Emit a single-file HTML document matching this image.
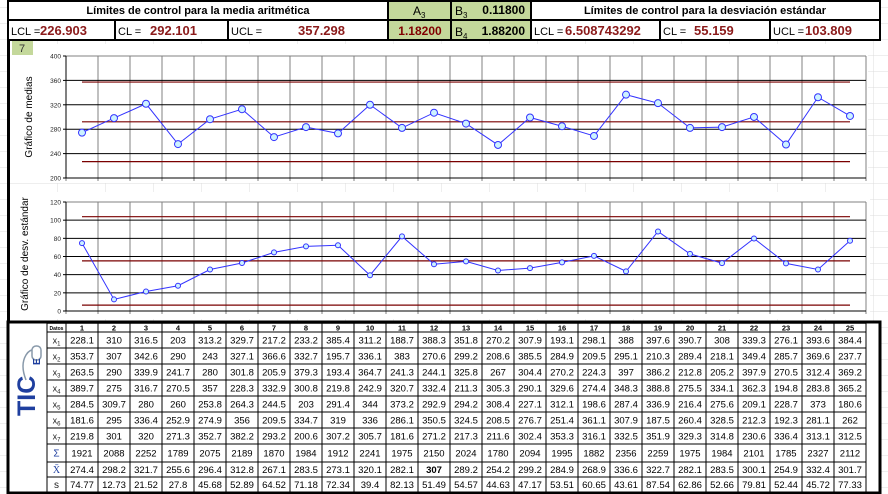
<!DOCTYPE html>
<html><head><meta charset="utf-8">
<style>
html,body{margin:0;padding:0;background:#fff;}
svg{display:block;font-family:"Liberation Sans",sans-serif;}
</style></head>
<body>
<svg id="s" width="888" height="494" viewBox="0 0 888 494" xmlns="http://www.w3.org/2000/svg">
<defs>
<pattern id="grid" width="48" height="16" patternUnits="userSpaceOnUse" x="10" y="40">
<path d="M48 0V16M0 16H48" stroke="#dcdcdc" stroke-width="1" fill="none"/>
</pattern>
</defs>
<rect x="0" y="0" width="888" height="494" fill="url(#grid)"/>
<g font-size="11">
<rect x="8" y="0" width="872" height="40" fill="#fff"/>
<rect x="388" y="0" width="143" height="40" fill="#c4d89b"/>
<g stroke="#000" stroke-width="2" fill="none">
<rect x="8" y="1" width="872" height="39"/>
<line x1="8" y1="20" x2="880" y2="20"/>
<line x1="388" y1="0" x2="388" y2="40"/><line x1="451" y1="0" x2="451" y2="40"/><line x1="531" y1="0" x2="531" y2="40"/>
<line x1="115" y1="20" x2="115" y2="40"/><line x1="228" y1="20" x2="228" y2="40"/>
<line x1="660" y1="20" x2="660" y2="40"/><line x1="770" y1="20" x2="770" y2="40"/>
</g>
<text x="198" y="14" text-anchor="middle" font-weight="bold">Límites de control para la media aritmética</text>
<text x="705" y="14" text-anchor="middle" font-weight="bold">Límites de control para la desviación estándar</text>
<text x="413" y="15" font-size="12">A<tspan font-size="8" dy="3">3</tspan></text>
<text x="455" y="15" font-size="12">B<tspan font-size="8" dy="3">3</tspan></text>
<text x="525" y="14" font-size="12" font-weight="bold" text-anchor="end">0.11800</text>
<text x="455" y="36" font-size="12">B<tspan font-size="8" dy="3">4</tspan></text>
<text x="525" y="35" font-size="12" font-weight="bold" text-anchor="end">1.88200</text>
<text x="420" y="35" font-size="12" font-weight="bold" fill="#800000" text-anchor="middle">1.18200</text>
<text x="11" y="35" font-size="11">LCL =</text>
<text x="40" y="35" font-size="13" font-weight="bold" fill="#8b1a1a">226.903</text>
<text x="118" y="35" font-size="11">CL =</text>
<text x="150" y="35" font-size="13" font-weight="bold" fill="#8b1a1a">292.101</text>
<text x="231" y="35" font-size="11">UCL =</text>
<text x="345" y="35" font-size="13" font-weight="bold" fill="#8b1a1a" text-anchor="end">357.298</text>
<text x="534" y="35" font-size="11">LCL =</text>
<text x="565" y="35" font-size="13" font-weight="bold" fill="#8b1a1a">6.508743292</text>
<text x="663" y="35" font-size="11">CL =</text>
<text x="694" y="35" font-size="13" font-weight="bold" fill="#8b1a1a">55.159</text>
<text x="773" y="35" font-size="11">UCL =</text>
<text x="805" y="35" font-size="13" font-weight="bold" fill="#8b1a1a">103.809</text>
</g>
<rect x="7" y="40" width="3" height="454" fill="#000"/>
<rect x="10" y="44" width="858" height="139" fill="#fff"/>
<rect x="10" y="192" width="860" height="127" fill="#fff"/>
<rect x="12" y="41" width="21" height="14" fill="#c4d89b"/>
<text x="22" y="52" font-size="11" text-anchor="middle" fill="#333">7</text>
<text transform="translate(32,117) rotate(-90)" font-size="10" text-anchor="middle">Gráfico de medias</text>
<text transform="translate(28,254) rotate(-90)" font-size="10" text-anchor="middle">Gráfico de desv. estándar</text>
<g id="charts"></g>
<g id="table"></g>
<g>
<path d="M26 380 Q20 365 26 355 Q30 348 38 350" fill="none" stroke="#8899aa" stroke-width="1.5"/>
<rect x="32" y="346" width="9" height="14" rx="4" fill="#fff" stroke="#8899aa" stroke-width="1.5"/>
<text transform="translate(35,416) rotate(-90)" font-size="25" font-weight="bold" fill="#1f3f9f">TIC</text>
<text transform="translate(40,365) rotate(-90)" font-size="10" font-weight="bold" fill="#1f3f9f">E</text>
</g>
</svg>
<script>
const samples = ["1","2","3","4","5","6","7","8","9","10","11","12","13","14","15","16","17","18","19","20","21","22","23","24","25"];
const x1 = [228.1,310,316.5,203,313.2,329.7,217.2,233.2,385.4,311.2,188.7,388.3,351.8,270.2,307.9,193.1,298.1,388,397.6,390.7,308,339.3,276.1,393.6,384.4];
const x2 = [353.7,307,342.6,290,243,327.1,366.6,332.7,195.7,336.1,383,270.6,299.2,208.6,385.5,284.9,209.5,295.1,210.3,289.4,218.1,349.4,285.7,369.6,237.7];
const x3 = [263.5,290,339.9,241.7,280,301.8,205.9,379.3,193.4,364.7,241.3,244.1,325.8,267,304.4,270.2,224.3,397,386.2,212.8,205.2,397.9,270.5,312.4,369.2];
const x4 = [389.7,275,316.7,270.5,357,228.3,332.9,300.8,219.8,242.9,320.7,332.4,211.3,305.3,290.1,329.6,274.4,348.3,388.8,275.5,334.1,362.3,194.8,283.8,365.2];
const x5 = [284.5,309.7,280,260,253.8,264.3,244.5,203,291.4,344,373.2,292.9,294.2,308.4,227.1,312.1,198.6,287.4,336.9,216.4,275.6,209.1,228.7,373,180.6];
const x6 = [181.6,295,336.4,252.9,274.9,356,209.5,334.7,319,336,286.1,350.5,324.5,208.5,276.7,251.4,361.1,307.9,187.5,260.4,328.5,212.3,192.3,281.1,262];
const x7 = [219.8,301,320,271.3,352.7,382.2,293.2,200.6,307.2,305.7,181.6,271.2,217.3,211.6,302.4,353.3,316.1,332.5,351.9,329.3,314.8,230.6,336.4,313.1,312.5];
const sums = [1921,2088,2252,1789,2075,2189,1870,1984,1912,2241,1975,2150,2024,1780,2094,1995,1882,2356,2259,1975,1984,2101,1785,2327,2112];
const means = [274.4,298.2,321.7,255.6,296.4,312.8,267.1,283.5,273.1,320.1,282.1,307,289.2,254.2,299.2,284.9,268.9,336.6,322.7,282.1,283.5,300.1,254.9,332.4,301.7];
const sds = [74.77,12.73,21.52,27.8,45.68,52.89,64.52,71.18,72.34,39.4,82.13,51.49,54.57,44.63,47.17,53.51,60.65,43.61,87.54,62.86,52.66,79.81,52.44,45.72,77.33];
const meanLimits = [226.903,292.101,357.298];
const sdLimits = [6.508743292,55.159,103.809];
const meanTicks = [200,240,280,320,360,400];
const sdTicks = [0,20,40,60,80,100,120];

const NS="http://www.w3.org/2000/svg";
function mk(tag,attrs,parent){const e=document.createElementNS(NS,tag);for(const k in attrs)e.setAttribute(k,attrs[k]);parent.appendChild(e);return e;}
const charts=document.getElementById('charts');
const n=samples.length;
const X0=66, CW=800/n;
const xPos=i=>X0+CW*(i+0.5);

function drawChart(name,vals,lim,ticks,top,bottom,r){
  const mn=ticks[0],mx=ticks[ticks.length-1];
  const y=v=>bottom-(v-mn)/(mx-mn)*(bottom-top);
  const g=mk('g',{},charts);
  
  
  for(let k=0;k<=n;k++){const xx=X0+CW*k;mk('line',{x1:xx,y1:top,x2:xx,y2:bottom+3,stroke:'#808080','stroke-width':1},g);}
  mk('line',{x1:X0,y1:top,x2:X0+800,y2:top,stroke:'#808080'},g);
  ticks.forEach(t=>{
    if(t!==mn&&t!==mx)mk('line',{x1:X0,y1:y(t),x2:X0+800,y2:y(t),stroke:'#000','stroke-width':1},g);
    mk('line',{x1:X0-3,y1:y(t),x2:X0,y2:y(t),stroke:'#000'},g);
    const tx=mk('text',{x:X0-5,y:y(t)+2.5,'font-size':6.5,'text-anchor':'end',fill:'#222'},g);tx.textContent=t;
    
    
  });
  mk('line',{x1:X0,y1:top,x2:X0,y2:bottom,stroke:'#000'},g);
  mk('line',{x1:X0,y1:bottom,x2:X0+800,y2:bottom,stroke:'#000'},g);
  lim.forEach((v,j)=>{
    const l=mk('line',{x1:xPos(0),y1:y(v),x2:xPos(n-1),y2:y(v),stroke:'#7a0000','stroke-width':1.2},g);
    
    
  });
  const p=mk('polyline',{points:vals.map((v,i)=>xPos(i)+','+y(v)).join(' '),fill:'none',stroke:'#3333ff','stroke-width':1},g);
  
  
  vals.forEach((v,i)=>{
    const c=mk('circle',{cx:xPos(i),cy:y(v),r:r,fill:'#ccf2ff',stroke:'#3333ff','stroke-width':1},g);
    
    
  });
}
drawChart('mean',means,meanLimits,meanTicks,56,178,3.5);
drawChart('sd',sds,sdLimits,sdTicks,202,311,2.5);

const tb=document.getElementById('table');
const rowsY=[323,332,348,364,380,396,412,428,444,462,477,492];
const dataRows=[x1,x2,x3,x4,x5,x6,x7,sums,means,sds];
const labels=['x1','x2','x3','x4','x5','x6','x7','Σ','X̄','s'];
mk('rect',{x:8,y:322,width:872,height:171,fill:'#fff'},tb);
for(let r=0;r<rowsY.length;r++)mk('line',{x1:47,y1:rowsY[r],x2:X0+800,y2:rowsY[r],stroke:'#000','stroke-width':r===0?1.5:1},tb);
mk('line',{x1:47,y1:323,x2:47,y2:492,stroke:'#000'},tb);
for(let k=0;k<=n;k++)mk('line',{x1:X0+CW*k,y1:323,x2:X0+CW*k,y2:492,stroke:'#000'},tb);
mk('rect',{x:8,y:322,width:872,height:171,fill:'none',stroke:'#000','stroke-width':3},tb);
const hd=mk('text',{x:56.5,y:330,'font-size':5,'font-weight':'bold','text-anchor':'middle'},tb);hd.textContent='Datos';
samples.forEach((s,i)=>{
  const t=mk('text',{x:xPos(i),y:330.5,'font-size':7.5,'font-weight':'bold','text-anchor':'middle'},tb);t.textContent=s;
  
  
});
labels.forEach((lb,r)=>{
  const yc=(rowsY[r+1]+rowsY[r+2])/2+3.5;
  const t=mk('text',{x:56.5,y:yc,'font-size':lb.length>1&&lb[0]==='x'?9:10,'text-anchor':'middle',fill:lb==='Σ'||lb==='X̄'?'#1f3f9f':'#222','font-family':lb==='X̄'?'Liberation Serif':'Liberation Sans'},tb);
  if(lb[0]==='x'&&lb.length===2){t.textContent='x';const ts=mk('tspan',{'font-size':6,dy:2},t);ts.textContent=lb[1];}
  else t.textContent=lb;
  
  
  dataRows[r].forEach((v,i)=>{
    const c=mk('text',{x:xPos(i),y:yc,'font-size':9.5,'text-anchor':'middle',fill:'#000','font-weight':(r===8&&i===11)?'bold':'normal'},tb);
    c.textContent=v;
    
    
  });
});
</script>
</body></html>
